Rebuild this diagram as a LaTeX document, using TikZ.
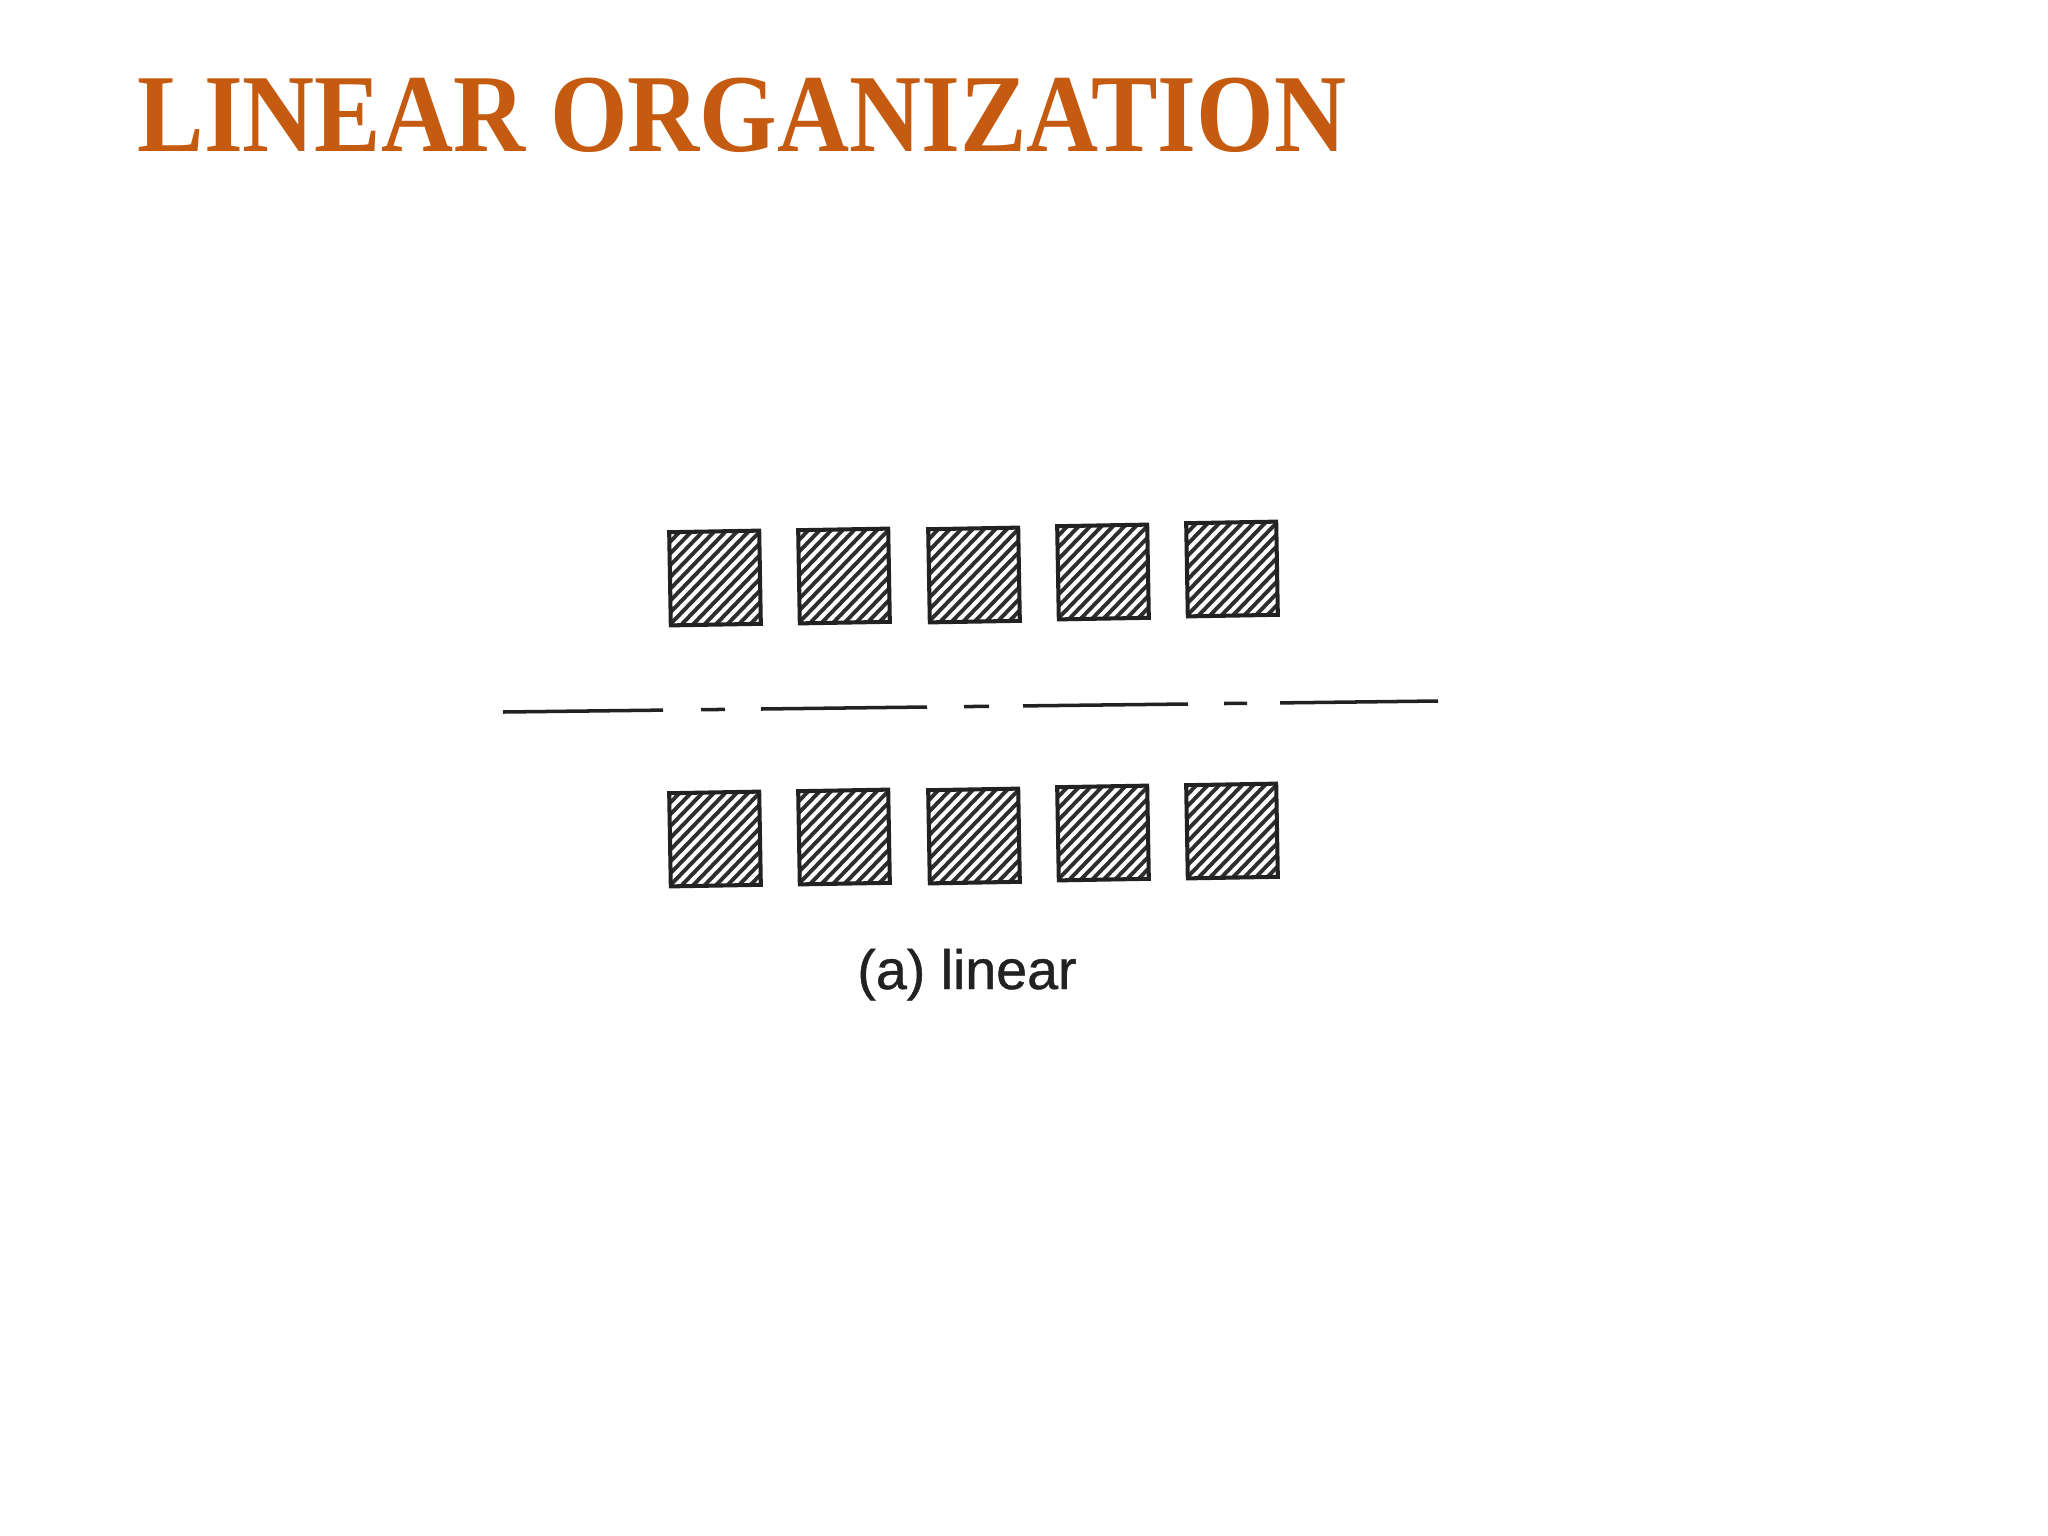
\documentclass[tikz,border=0pt]{standalone}
\usepackage{fontspec}
\setmainfont{Liberation Serif}
\newfontfamily\capfont[FakeBold=0.8]{Liberation Sans}
\definecolor{titlec}{HTML}{C55A11}
\definecolor{inkc}{HTML}{222222}
\definecolor{hatchc}{HTML}{2E2E2E}
\begin{document}
\begin{tikzpicture}[x=0.01cm,y=-0.01cm,
  hbox/.style={draw=inkc, line width=1.15pt, fill=white, inner sep=0pt,
    minimum width=25.6pt, minimum height=26.5pt, rotate=1,
    path picture={
      \foreach \k in {-9,...,9}{
        \draw[hatchc, line width=1.1pt]
          ([xshift=\k*3.3pt]path picture bounding box.center) ++(-30pt,-30pt) -- ++(60pt,60pt);
      }
    }},
  dashseg/.style={draw=inkc, line width=1.0pt}]
\useasboundingbox (0,0) rectangle (2048,1536);
\fill[white] (0,0) rectangle (2048,1536);

\node[anchor=base west, inner sep=0pt, text=titlec] (title) at (137,151)
  {\resizebox{343.7pt}{20.9pt}{\bfseries LINEAR ORGANIZATION}};

% top row
\node[hbox] (t1) at (715,578) {};
\node[hbox] (t2) at (844,576) {};
\node[hbox] (t3) at (974,575) {};
\node[hbox] (t4) at (1103,572) {};
\node[hbox] (t5) at (1232,569) {};
% bottom row
\node[hbox] (b1) at (715,839) {};
\node[hbox] (b2) at (844,837) {};
\node[hbox] (b3) at (974,836) {};
\node[hbox] (b4) at (1103,833) {};
\node[hbox] (b5) at (1232,831) {};

% axis line (long-short dashes)
\draw[dashseg] (503,712) -- (663,710.1);
\draw[dashseg] (701,709.7) -- (725,709.4);
\draw[dashseg] (761,709.0) -- (927,707.0);
\draw[dashseg] (964,706.6) -- (989,706.3);
\draw[dashseg] (1023,705.9) -- (1188,704.0);
\draw[dashseg] (1224,703.5) -- (1247,703.3);
\draw[dashseg] (1280,702.9) -- (1438,701.0);

\node[anchor=base, inner sep=0pt, text=inkc,
  font=\capfont\fontsize{15.8pt}{18pt}\selectfont] (cap) at (967,989) {(a) linear};
\end{tikzpicture}
\end{document}
